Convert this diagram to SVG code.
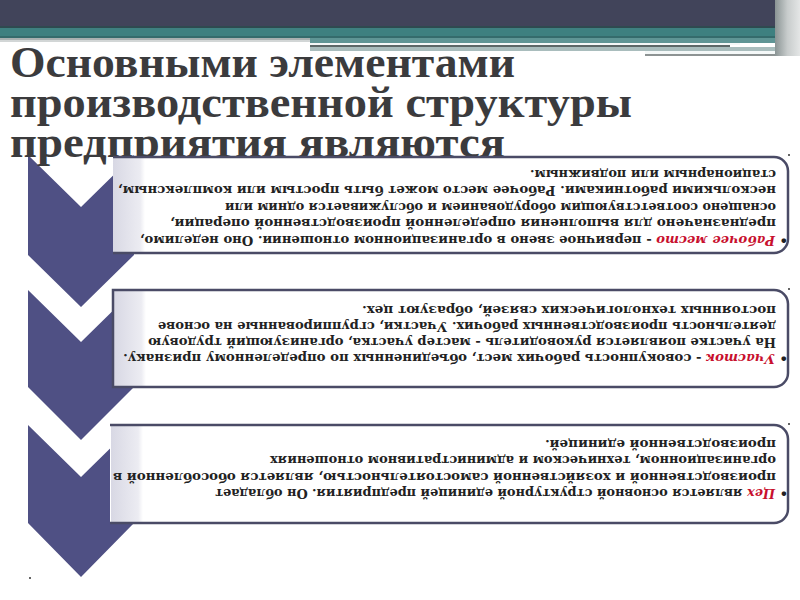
<svg xmlns="http://www.w3.org/2000/svg" width="800" height="600" viewBox="0 0 800 600">
<defs>
<style>
.title{font-family:"Liberation Serif","DejaVu Serif",serif;font-weight:bold;font-size:45px;fill:#3b3b3d}
.body{font-family:"DejaVu Serif","Liberation Serif",serif;font-weight:bold;font-size:13px;fill:#222222}
.red{fill:#c8102e;font-style:italic}
.chev{fill:#4f5084}
.box{fill:#ffffff}
.frame{fill:none;stroke:#4a4b66;stroke-width:2.5}
.dot{fill:#333}
</style>
<linearGradient id="band" x1="0" y1="0" x2="1" y2="0">
<stop offset="0" stop-color="#d8d8e4"/>
<stop offset="0.85" stop-color="#ececf2"/>
<stop offset="1" stop-color="#ffffff"/>
</linearGradient>
<linearGradient id="edge" x1="0" y1="0" x2="1" y2="0">
<stop offset="0" stop-color="#8a9494"/>
<stop offset="0.5" stop-color="#c8cccc"/>
<stop offset="1" stop-color="#e4e6e6"/>
</linearGradient>
</defs>
<rect width="800" height="600" fill="#ffffff"/>
<g id="header">
<rect x="0" y="0" width="800" height="26" fill="#41445a"/>
<rect x="0" y="26" width="800" height="2" fill="#2f4a50"/>
<rect x="0" y="28" width="800" height="8" fill="#3e8080"/>
<rect x="0" y="36" width="800" height="2" fill="#356b6c"/>
<rect x="0" y="38" width="310" height="2" fill="#a9b1b1"/>
<rect x="0" y="40" width="310" height="2" fill="#d2d6d6"/>
<rect x="310" y="38" width="465" height="5" fill="#5f9595"/>
<rect x="310" y="43" width="430" height="2" fill="#f4f8f8"/>
<rect x="310" y="45" width="420" height="2" fill="#5c6868"/>
<rect x="310" y="47" width="465" height="4" fill="#a9bdbd"/>
<rect x="645" y="51" width="145" height="3" fill="#f4f8f8"/>
<rect x="645" y="54" width="145" height="2" fill="#8d9393"/>
<rect x="775" y="0" width="25" height="56" fill="url(#edge)"/>
</g>
<g id="chevrons">
<polygon class="chev" points="28,155 81,207 134,155 134,255 81,307 28,255"/>
<polygon class="chev" points="28,290 81,342 134,290 134,387 81,440 28,387"/>
<polygon class="chev" points="28,425 81,477 134,425 134,523 81,577 28,523"/>
</g>
<g id="title">
<text class="title" x="10" y="77" textLength="505" lengthAdjust="spacingAndGlyphs">Основными элементами</text>
<text class="title" x="10" y="117" textLength="622" lengthAdjust="spacingAndGlyphs">производственной структуры</text>
<text class="title" x="10" y="157" textLength="495" lengthAdjust="spacingAndGlyphs">предприятия являются</text>
</g>
<g id="node-workplace">
<path class="box" d="M113,157 H774 A14,14 0 0 1 788,171 V239 A14,14 0 0 1 774,253 H113 Z"/>
<rect x="113" y="158" width="32" height="94" fill="url(#band)"/>
<path class="frame" d="M113,157 H774 A14,14 0 0 1 788,171 V239 A14,14 0 0 1 774,253 H113"/>
<g transform="translate(900,411) rotate(180)">
<text class="body" x="112" y="175.4" textLength="648" lengthAdjust="spacingAndGlyphs">• <tspan class="red">Рабочее место</tspan> - первичное звено в организационном отношении. Оно неделимо,</text>
<text class="body" x="124" y="192.4" textLength="606" lengthAdjust="spacingAndGlyphs">предназначено для выполнения определенной производственной операции,</text>
<text class="body" x="124" y="208.4" textLength="551" lengthAdjust="spacingAndGlyphs">оснащено соответствующим оборудованием и обслуживается одним или</text>
<text class="body" x="124" y="225.4" textLength="658" lengthAdjust="spacingAndGlyphs">несколькими работниками. Рабочее место может быть простым или комплексным,</text>
<text class="body" x="124" y="241.4" textLength="246" lengthAdjust="spacingAndGlyphs">стационарным или подвижным.</text>
</g>
</g>
<g id="node-section">
<path class="box" d="M113,290 H774 A14,14 0 0 1 788,304 V373 A14,14 0 0 1 774,387 H113 Z"/>
<rect x="114" y="291" width="32" height="95" fill="url(#band)"/>
<path class="frame" d="M113,290 H774 A14,14 0 0 1 788,304 V373 A14,14 0 0 1 774,387 H113 Z"/>
<g transform="translate(900,657) rotate(180)">
<text class="body" x="112" y="303.4" textLength="665" lengthAdjust="spacingAndGlyphs">• <tspan class="red">Участок</tspan> - совокупность рабочих мест, объединенных по определенному признаку.</text>
<text class="body" x="124" y="319.4" textLength="628" lengthAdjust="spacingAndGlyphs">На участке появляется руководитель - мастер участка, организующий трудовую</text>
<text class="body" x="124" y="335.4" textLength="618" lengthAdjust="spacingAndGlyphs">деятельность производственных рабочих. Участки, сгруппированные на основе</text>
<text class="body" x="124" y="351.4" textLength="414" lengthAdjust="spacingAndGlyphs">постоянных технологических связей, образуют цех.</text>
</g>
</g>
<g id="node-shop">
<path class="box" d="M110,425 H774 A14,14 0 0 1 788,439 V509 A14,14 0 0 1 774,523 H110 Z"/>
<rect x="111" y="426" width="32" height="96" fill="url(#band)"/>
<path class="frame" d="M110,425 H774 A14,14 0 0 1 788,439 V509 A14,14 0 0 1 774,523 H110"/>
<g transform="translate(900,931) rotate(180)">
<text class="body" x="112" y="442.4" textLength="573" lengthAdjust="spacingAndGlyphs">• <tspan class="red">Цех</tspan> является основной структурной единицей предприятия. Он обладает</text>
<text class="body" x="124" y="458.4" textLength="663" lengthAdjust="spacingAndGlyphs">производственной и хозяйственной самостоятельностью, является обособленной в</text>
<text class="body" x="124" y="475.4" textLength="506" lengthAdjust="spacingAndGlyphs">организационном, техническом и административном отношениях</text>
<text class="body" x="124" y="491.4" textLength="231" lengthAdjust="spacingAndGlyphs">производственной единицей.</text>
</g>
</g>
<g id="connectors">
<circle class="dot" cx="789" cy="155" r="1"/>
<circle class="dot" cx="789" cy="289" r="1"/>
<circle class="dot" cx="789" cy="424" r="1"/>
<circle class="dot" cx="30" cy="578" r="1"/>
</g>
</svg>
